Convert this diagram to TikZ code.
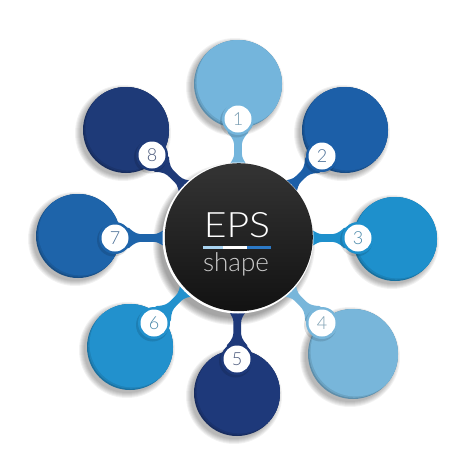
\documentclass[tikz,border=0pt]{standalone}
\usepackage{fontspec}
\setmainfont{Lato}
\IfFontExistsTF{Lato Light}{\newfontfamily\thinfont{Lato Light}}{\newfontfamily\thinfont{Lato}}
\usetikzlibrary{calc}
\pgfdeclarelayer{bg}
\pgfdeclarelayer{shadow}
\pgfdeclarelayer{stem}
\pgfsetlayers{bg,shadow,stem,main}
\definecolor{cA}{HTML}{74B5DC}
\definecolor{cB}{HTML}{1C5FA8}
\definecolor{cC}{HTML}{1E90CC}
\definecolor{cD}{HTML}{78B6DA}
\definecolor{cE}{HTML}{1E397A}
\definecolor{cF}{HTML}{2291CD}
\definecolor{cG}{HTML}{1E64AA}
\definecolor{cH}{HTML}{1E3A78}
\definecolor{hubtop}{HTML}{343434}
\definecolor{hubbot}{HTML}{121212}
\definecolor{barA}{HTML}{A9D3F0}
\definecolor{barC}{HTML}{2C79C6}
\tikzset{
  petal/.style={circle, inner sep=0pt, minimum size=#1},
  badgering/.style={circle, inner sep=0pt, minimum size=32pt},
  badge/.style={circle, inner sep=0pt, minimum size=27pt, fill=white,
    font=\thinfont\fontsize{18}{18}\selectfont},
  hubnode/.style={circle, inner sep=0pt, minimum size=150pt},
}
\newcommand\stemshape[2]{%
\fill[#2]
 ($(#1)!0pt!(hub)!13pt!90:(hub)$) --
 ($(#1)!14pt!(hub)!10pt!90:(hub)$) .. controls ($(#1)!20pt!(hub)!4.5pt!90:(hub)$) and ($(#1)!23pt!(hub)!3.8pt!90:(hub)$) ..
 ($(#1)!28pt!(hub)!3.8pt!90:(hub)$) --
 ($(hub)!85pt!(#1)!3.8pt!-90:(#1)$) .. controls ($(hub)!80pt!(#1)!3.8pt!-90:(#1)$) and ($(hub)!78pt!(#1)!6pt!-90:(#1)$) ..
 ($(hub)!74pt!(#1)!8pt!-90:(#1)$) --
 ($(hub)!60pt!(#1)!8pt!-90:(#1)$) --
 ($(hub)!60pt!(#1)!8pt!90:(#1)$) --
 ($(hub)!74pt!(#1)!8pt!90:(#1)$) .. controls ($(hub)!78pt!(#1)!6pt!90:(#1)$) and ($(hub)!80pt!(#1)!3.8pt!90:(#1)$) ..
 ($(hub)!85pt!(#1)!3.8pt!90:(#1)$) --
 ($(#1)!28pt!(hub)!3.8pt!-90:(hub)$) .. controls ($(#1)!23pt!(hub)!3.8pt!-90:(hub)$) and ($(#1)!20pt!(hub)!4.5pt!-90:(hub)$) ..
 ($(#1)!14pt!(hub)!10pt!-90:(hub)$) --
 ($(#1)!0pt!(hub)!13pt!-90:(hub)$) -- cycle;
}
\begin{document}
\begin{tikzpicture}[x=1pt,y=-1pt]
\useasboundingbox (0,0) rectangle (474,474);
\begin{pgfonlayer}{bg}
\fill[white] (0,0) rectangle (474,474);
\end{pgfonlayer}
\node[hubnode] (hub) at (238,238) {};
\foreach \n/\col/\cx/\cy/\r/\bx/\by in {
  1/cA/238/84/44/238/119,
  2/cB/345/130/43/322/156,
  3/cC/395/239/42/358/238,
  4/cD/353/354/45/322/323,
  5/cE/237/393/43/237/359,
  6/cF/130/347/43/154/323,
  7/cG/78/236/42/115/238,
  8/cH/126/130/43/152/155}{
  \begin{pgfonlayer}{shadow}
    \foreach \k in {0,1,2,3,4,5}
      \fill[black, opacity=0.05] (\cx-3,\cy+3) circle ({\r+\k});
  \end{pgfonlayer}
  \node[petal={2*\r pt}, fill=\col!78!black] (c\n) at (\cx,\cy) {};
  \begin{scope}
    \clip (c\n.center) circle (\r);
    \fill[\col!90!black] (\cx+1.2,\cy-1.2) circle (\r);
    \fill[\col] (\cx+2.6,\cy-2.6) circle (\r);
  \end{scope}
  \fill[black, opacity=0.12] (\bx-1.5,\by+2) circle (16.5);
  \node[badgering, fill=\col] (q\n) at (\bx,\by) {};
  \node[badge, text=\col!55!gray] (b\n) at (\bx,\by) {\n};
  \begin{pgfonlayer}{stem}
    \stemshape{b\n}{\col}
  \end{pgfonlayer}
}
% hub
\begin{pgfonlayer}{shadow}
  \foreach \k in {0,1,2,3,4,5,6,7}
    \fill[black, opacity=0.05] ($(hub.center)+(-4,6)$) circle ({74+\k});
\end{pgfonlayer}
\fill[white] (hub.center) circle (75.5);
\shade[top color=hubtop, bottom color=hubbot] ($(hub.center)+(0.8,-0.8)$) circle (74);
\node[anchor=base, text=white, font=\thinfont\fontsize{35}{35}\selectfont, inner sep=0pt]
  (eps) at (237,237) {\scalebox{1.12}[1]{EPS}};
\fill[barA] (203,246) rectangle (223,248.5);
\fill[white] (223,246) rectangle (247,248.5);
\fill[barC] (247,246) rectangle (271,248.5);
\node[anchor=base, text=black!20, font=\thinfont\fontsize{26}{26}\selectfont, inner sep=0pt]
  (shp) at (236,271) {shape};
\end{tikzpicture}
\end{document}
